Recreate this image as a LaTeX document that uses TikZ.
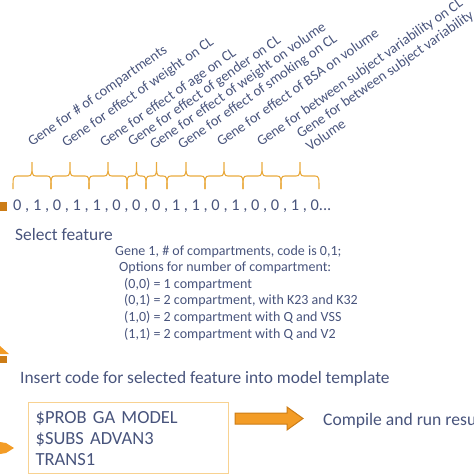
\documentclass[tikz,border=0pt]{standalone}
\usepackage{fontspec}
\setmainfont{Carlito}
\usetikzlibrary{positioning}
\definecolor{slateblue}{RGB}{72,84,124}
\definecolor{bracegold}{RGB}{233,170,62}
\definecolor{boxgold}{RGB}{248,210,145}
\definecolor{arroworange}{RGB}{243,156,38}
\definecolor{arrowedge}{RGB}{204,124,22}

\tikzset{
  genelabel/.style={anchor=base west,rotate=35,inner sep=0pt,text=slateblue,
                    font=\fontsize{14.4}{16}\selectfont,align=left},
  genebrace/.style={draw=bracegold,line width=1.1pt},
  steptext/.style={anchor=base west,inner sep=0pt,text=slateblue,
                   font=\fontsize{17.4}{20}\selectfont},
  templatebox/.style={draw=boxgold,line width=1.3pt,inner sep=7pt,text=slateblue,
                      text width=186pt,minimum height=71pt,align=left,
                      font=\fontsize{18.5}{21}\selectfont}
}

\begin{document}
\begin{tikzpicture}[x=1pt,y=-1pt]
  \useasboundingbox (0,0) rectangle (474,474);
  \clip (0,0) rectangle (474,474);

  % gene labels
  \foreach \x/\y/\txt [count=\i] in {
      32/147/{Gene for \# of compartments},
      66/148/{Gene for effect of weight on CL},
      104/148/{Gene for effect of age on CL},
      132/147/{Gene for effect of gender on CL},
      154/150/{Gene for effect of weight on volume},
      182/150/{Gene for effect of smoking on CL},
      221/147/{Gene for effect of BSA on volume},
      261/147/{Gene for between subject variability on CL},
      310/152/{Gene for between subject variability\\Volume}}
    \node[genelabel] (lab\i) at (\x,\y) {\txt};

  % braces over the bits
  \foreach \a/\b in {13/51,51/89,89/127,127/146,146/167,167/205,205/243,243/281,281/319}{
    \pgfmathsetmacro\m{(\a+\b)/2}
    \draw[genebrace] (\a,189) .. controls (\a,178) and (\a,176) .. ({\a+4},176)
      -- ({\m-4},176) .. controls (\m,176) and (\m,174) .. (\m,162)
      .. controls (\m,174) and (\m,176) .. ({\m+4},176)
      -- ({\b-4},176) .. controls (\b,176) and (\b,178) .. (\b,189);
  }

  \node[steptext,font=\fontsize{16.4}{20}\selectfont] (bits) at (13,210)
    {0 , 1 , 0 , 1 , 1 , 0 , 0 , 0 , 1 , 1 , 0 , 1 , 0 , 0 , 1 , 0...};
  \node[steptext] (select) at (15,240) {Select feature};

  \node[steptext,font=\fontsize{14}{16.6}\selectfont,align=left] (geneinfo) at (115,338)
    {Gene 1, \# of compartments, code is 0,1;\\
     \hspace*{4pt}Options for number of compartment:\\
     \hspace*{9pt}(0,0) = 1 compartment\\
     \hspace*{9pt}(0,1) = 2 compartment, with K23 and K32\\
     \hspace*{9pt}(1,0) = 2 compartment with Q and VSS\\
     \hspace*{9pt}(1,1) = 2 compartment with Q and V2};

  \node[steptext] (insert) at (20,383)
    {Insert code for selected feature into model template};

  \node[templatebox,anchor=north west] (template) at (28,402)
    {\$PROB GA MODEL\\\$SUBS ADVAN3\\TRANS1};

  % block arrow to compile step
  \draw[fill=arroworange,draw=arrowedge,line width=1pt]
    (235,413) -- (287,413) -- (287,407) -- (303,418.5) -- (287,430)
    -- (287,424) -- (235,424) -- cycle;
  \node[steptext,font=\fontsize{17.6}{20}\selectfont] (compile) at (323,425)
    {Compile and run results};

  % arrow ends coming in from the left
  \fill[arrowedge] (0,202) rectangle (7,211);
  \fill[arroworange] (0,346) -- (9,354) -- (0,354) -- cycle;
  \fill[arrowedge] (0,356) rectangle (7,363);
  \fill[arroworange] (0,442) -- (6,443) -- (14,448) -- (6,453) -- (0,454) -- cycle;
\end{tikzpicture}
\end{document}
